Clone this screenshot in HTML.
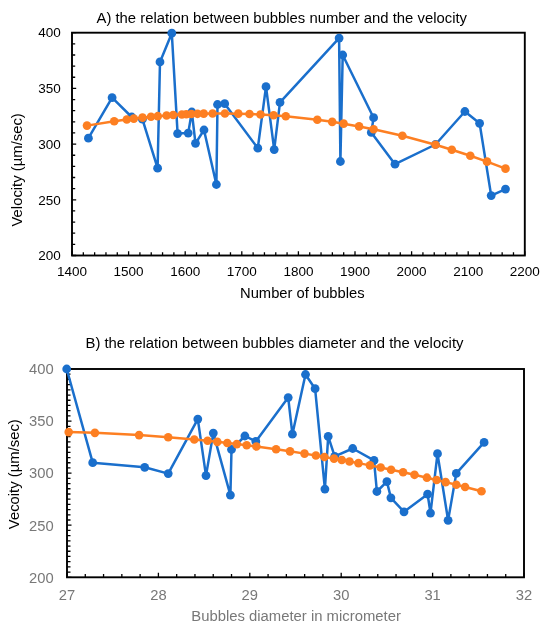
<!DOCTYPE html>
<html><head><meta charset="utf-8"><style>
html,body{margin:0;padding:0;background:#fff;}
svg{display:block;will-change:transform;}
text{font-family:"Liberation Sans", sans-serif;}
</style></head><body>
<svg width="550" height="632" viewBox="0 0 550 632">
<rect width="550" height="632" fill="#fff"/>
<path d="M72,255.5v-4.2 M83.32,255.5v-3.2 M94.64,255.5v-3.2 M105.96,255.5v-3.2 M117.28,255.5v-3.2 M128.6,255.5v-4.2 M139.92,255.5v-3.2 M151.24,255.5v-3.2 M162.56,255.5v-3.2 M173.88,255.5v-3.2 M185.2,255.5v-4.2 M196.52,255.5v-3.2 M207.84,255.5v-3.2 M219.16,255.5v-3.2 M230.48,255.5v-3.2 M241.8,255.5v-4.2 M253.12,255.5v-3.2 M264.44,255.5v-3.2 M275.76,255.5v-3.2 M287.08,255.5v-3.2 M298.4,255.5v-4.2 M309.72,255.5v-3.2 M321.04,255.5v-3.2 M332.36,255.5v-3.2 M343.68,255.5v-3.2 M355,255.5v-4.2 M366.32,255.5v-3.2 M377.64,255.5v-3.2 M388.96,255.5v-3.2 M400.28,255.5v-3.2 M411.6,255.5v-4.2 M422.92,255.5v-3.2 M434.24,255.5v-3.2 M445.56,255.5v-3.2 M456.88,255.5v-3.2 M468.2,255.5v-4.2 M479.52,255.5v-3.2 M490.84,255.5v-3.2 M502.16,255.5v-3.2 M513.48,255.5v-3.2 M524.8,255.5v-4.2 M72,255.5h4.2 M72,244.36h3.2 M72,233.22h3.2 M72,222.08h3.2 M72,210.94h3.2 M72,199.8h4.2 M72,188.66h3.2 M72,177.52h3.2 M72,166.38h3.2 M72,155.24h3.2 M72,144.1h4.2 M72,132.96h3.2 M72,121.82h3.2 M72,110.68h3.2 M72,99.54h3.2 M72,88.4h4.2 M72,77.26h3.2 M72,66.12h3.2 M72,54.98h3.2 M72,43.84h3.2 M72,32.7h4.2" stroke="#000" stroke-width="1.3" fill="none"/>
<rect x="72.0" y="32.7" width="452.8" height="222.8" fill="none" stroke="#000" stroke-width="1.9"/>
<path d="M88.4,138.2 L112.1,97.7 L131.7,117 L142.4,119.2 L157.6,168.2 L160,61.9 L171.8,33.2 L177.6,133.6 L188.2,133.1 L191.8,112 L195.5,143.3 L204,130 L216.4,184.5 L217.5,104.5 L224.7,103.7 L257.8,148.2 L266,86.7 L274.2,149.6 L280,102.4 L339.1,38.1 L340.4,161.5 L342.7,55 L373.6,117.7 L371.3,132.4 L395,164.2 L435.5,144.5 L464.9,111.5 L479.6,123.3 L491.2,195.6 L505.5,189.1" fill="none" stroke="#1a6fcc" stroke-width="2.5" stroke-linejoin="round" stroke-linecap="round"/>
<circle cx="88.4" cy="138.2" r="4.4" fill="#1a6fcc"/><circle cx="112.1" cy="97.7" r="4.4" fill="#1a6fcc"/><circle cx="131.7" cy="117" r="4.4" fill="#1a6fcc"/><circle cx="142.4" cy="119.2" r="4.4" fill="#1a6fcc"/><circle cx="157.6" cy="168.2" r="4.4" fill="#1a6fcc"/><circle cx="160" cy="61.9" r="4.4" fill="#1a6fcc"/><circle cx="171.8" cy="33.2" r="4.4" fill="#1a6fcc"/><circle cx="177.6" cy="133.6" r="4.4" fill="#1a6fcc"/><circle cx="188.2" cy="133.1" r="4.4" fill="#1a6fcc"/><circle cx="191.8" cy="112" r="4.4" fill="#1a6fcc"/><circle cx="195.5" cy="143.3" r="4.4" fill="#1a6fcc"/><circle cx="204" cy="130" r="4.4" fill="#1a6fcc"/><circle cx="216.4" cy="184.5" r="4.4" fill="#1a6fcc"/><circle cx="217.5" cy="104.5" r="4.4" fill="#1a6fcc"/><circle cx="224.7" cy="103.7" r="4.4" fill="#1a6fcc"/><circle cx="257.8" cy="148.2" r="4.4" fill="#1a6fcc"/><circle cx="266" cy="86.7" r="4.4" fill="#1a6fcc"/><circle cx="274.2" cy="149.6" r="4.4" fill="#1a6fcc"/><circle cx="280" cy="102.4" r="4.4" fill="#1a6fcc"/><circle cx="339.1" cy="38.1" r="4.4" fill="#1a6fcc"/><circle cx="340.4" cy="161.5" r="4.4" fill="#1a6fcc"/><circle cx="342.7" cy="55" r="4.4" fill="#1a6fcc"/><circle cx="373.6" cy="117.7" r="4.4" fill="#1a6fcc"/><circle cx="371.3" cy="132.4" r="4.4" fill="#1a6fcc"/><circle cx="395" cy="164.2" r="4.4" fill="#1a6fcc"/><circle cx="435.5" cy="144.5" r="4.4" fill="#1a6fcc"/><circle cx="464.9" cy="111.5" r="4.4" fill="#1a6fcc"/><circle cx="479.6" cy="123.3" r="4.4" fill="#1a6fcc"/><circle cx="491.2" cy="195.6" r="4.4" fill="#1a6fcc"/><circle cx="505.5" cy="189.1" r="4.4" fill="#1a6fcc"/>
<path d="M87,125.61 L114.2,121.19 L126.8,119.47 L133.8,118.61 L142.5,117.64 L151,116.78 L157.8,116.17 L166.6,115.47 L173.2,115.01 L181.9,114.49 L186.3,114.27 L191.4,114.05 L197.5,113.83 L203.7,113.66 L212.6,113.5 L224.9,113.46 L238.3,113.65 L249.5,114 L260.5,114.5 L273.6,115.32 L285.8,116.29 L317.3,119.74 L332.2,121.84 L343.6,123.65 L359.1,126.4 L373.6,129.27 L402.4,135.82 L435.5,144.76 L451.8,149.71 L470.3,155.78 L487,161.66 L505.5,168.63" fill="none" stroke="#fd7f22" stroke-width="2.5" stroke-linejoin="round" stroke-linecap="round"/>
<circle cx="87" cy="125.61" r="4.3" fill="#fd7f22"/><circle cx="114.2" cy="121.19" r="4.3" fill="#fd7f22"/><circle cx="126.8" cy="119.47" r="4.3" fill="#fd7f22"/><circle cx="133.8" cy="118.61" r="4.3" fill="#fd7f22"/><circle cx="142.5" cy="117.64" r="4.3" fill="#fd7f22"/><circle cx="151" cy="116.78" r="4.3" fill="#fd7f22"/><circle cx="157.8" cy="116.17" r="4.3" fill="#fd7f22"/><circle cx="166.6" cy="115.47" r="4.3" fill="#fd7f22"/><circle cx="173.2" cy="115.01" r="4.3" fill="#fd7f22"/><circle cx="181.9" cy="114.49" r="4.3" fill="#fd7f22"/><circle cx="186.3" cy="114.27" r="4.3" fill="#fd7f22"/><circle cx="191.4" cy="114.05" r="4.3" fill="#fd7f22"/><circle cx="197.5" cy="113.83" r="4.3" fill="#fd7f22"/><circle cx="203.7" cy="113.66" r="4.3" fill="#fd7f22"/><circle cx="212.6" cy="113.5" r="4.3" fill="#fd7f22"/><circle cx="224.9" cy="113.46" r="4.3" fill="#fd7f22"/><circle cx="238.3" cy="113.65" r="4.3" fill="#fd7f22"/><circle cx="249.5" cy="114" r="4.3" fill="#fd7f22"/><circle cx="260.5" cy="114.5" r="4.3" fill="#fd7f22"/><circle cx="273.6" cy="115.32" r="4.3" fill="#fd7f22"/><circle cx="285.8" cy="116.29" r="4.3" fill="#fd7f22"/><circle cx="317.3" cy="119.74" r="4.3" fill="#fd7f22"/><circle cx="332.2" cy="121.84" r="4.3" fill="#fd7f22"/><circle cx="343.6" cy="123.65" r="4.3" fill="#fd7f22"/><circle cx="359.1" cy="126.4" r="4.3" fill="#fd7f22"/><circle cx="373.6" cy="129.27" r="4.3" fill="#fd7f22"/><circle cx="402.4" cy="135.82" r="4.3" fill="#fd7f22"/><circle cx="435.5" cy="144.76" r="4.3" fill="#fd7f22"/><circle cx="451.8" cy="149.71" r="4.3" fill="#fd7f22"/><circle cx="470.3" cy="155.78" r="4.3" fill="#fd7f22"/><circle cx="487" cy="161.66" r="4.3" fill="#fd7f22"/><circle cx="505.5" cy="168.63" r="4.3" fill="#fd7f22"/>
<text x="60.8" y="36.83" font-size="13.5" text-anchor="end" fill="#000">400</text><text x="60.8" y="92.83" font-size="13.5" text-anchor="end" fill="#000">350</text><text x="60.8" y="148.63" font-size="13.5" text-anchor="end" fill="#000">300</text><text x="60.8" y="204.63" font-size="13.5" text-anchor="end" fill="#000">250</text><text x="60.8" y="260.43" font-size="13.5" text-anchor="end" fill="#000">200</text><text x="72" y="275.8" font-size="13.5" text-anchor="middle" fill="#000">1400</text><text x="128.6" y="275.8" font-size="13.5" text-anchor="middle" fill="#000">1500</text><text x="185.2" y="275.8" font-size="13.5" text-anchor="middle" fill="#000">1600</text><text x="241.8" y="275.8" font-size="13.5" text-anchor="middle" fill="#000">1700</text><text x="298.4" y="275.8" font-size="13.5" text-anchor="middle" fill="#000">1800</text><text x="355" y="275.8" font-size="13.5" text-anchor="middle" fill="#000">1900</text><text x="411.6" y="275.8" font-size="13.5" text-anchor="middle" fill="#000">2000</text><text x="468.2" y="275.8" font-size="13.5" text-anchor="middle" fill="#000">2100</text><text x="524.8" y="275.8" font-size="13.5" text-anchor="middle" fill="#000">2200</text>
<text x="96.5" y="22.6" font-size="14.85" fill="#000">A) the relation between bubbles number and the velocity</text>
<text x="240" y="297.7" font-size="14.75" fill="#000">Number of bubbles</text>
<text transform="translate(22.1,226.5) rotate(-90)" font-size="14.85" fill="#000">Velocity (µm/sec)</text>
<path d="M67,577.3v-4.5 M85.28,577.3v-3.2 M103.56,577.3v-3.2 M121.84,577.3v-3.2 M140.12,577.3v-3.2 M158.4,577.3v-4.5 M176.68,577.3v-3.2 M194.96,577.3v-3.2 M213.24,577.3v-3.2 M231.52,577.3v-3.2 M249.8,577.3v-4.5 M268.08,577.3v-3.2 M286.36,577.3v-3.2 M304.64,577.3v-3.2 M322.92,577.3v-3.2 M341.2,577.3v-4.5 M359.48,577.3v-3.2 M377.76,577.3v-3.2 M396.04,577.3v-3.2 M414.32,577.3v-3.2 M432.6,577.3v-4.5 M450.88,577.3v-3.2 M469.16,577.3v-3.2 M487.44,577.3v-3.2 M505.72,577.3v-3.2 M524,577.3v-4.5 M67,577.3h4.5 M67,572.09h3.5 M67,566.88h3.5 M67,561.68h3.5 M67,556.47h3.5 M67,551.26h3.5 M67,546.05h3.5 M67,540.85h3.5 M67,535.64h3.5 M67,530.43h3.5 M67,525.22h4.5 M67,520.02h3.5 M67,514.81h3.5 M67,509.6h3.5 M67,504.39h3.5 M67,499.19h3.5 M67,493.98h3.5 M67,488.77h3.5 M67,483.56h3.5 M67,478.36h3.5 M67,473.15h4.5 M67,467.94h3.5 M67,462.73h3.5 M67,457.53h3.5 M67,452.32h3.5 M67,447.11h3.5 M67,441.9h3.5 M67,436.7h3.5 M67,431.49h3.5 M67,426.28h3.5 M67,421.07h4.5 M67,415.87h3.5 M67,410.66h3.5 M67,405.45h3.5 M67,400.25h3.5 M67,395.04h3.5 M67,389.83h3.5 M67,384.62h3.5 M67,379.42h3.5 M67,374.21h3.5 M67,369h4.5" stroke="#000" stroke-width="1.3" fill="none"/>
<rect x="67.0" y="369.0" width="457" height="208.3" fill="none" stroke="#000" stroke-width="1.9"/>
<path d="M66.7,369 L92.7,462.7 L144.7,467.3 L168.2,473.6 L197.8,419.1 L206,475.6 L213.3,433.1 L230.4,495.1 L231.5,449.5 L244.9,436 L255.8,441.4 L288.2,397.6 L292.4,434.2 L305.5,374.5 L315.1,388.7 L324.9,489.1 L328.2,436.4 L334.7,456.4 L352.7,448.5 L374,460.4 L376.9,491.5 L386.9,481.6 L390.9,497.8 L404,511.8 L427.6,494.2 L430.5,513.1 L437.5,453.7 L448.1,520.3 L456.3,473.4 L484.1,442.4" fill="none" stroke="#1a6fcc" stroke-width="2.5" stroke-linejoin="round" stroke-linecap="round"/>
<circle cx="66.7" cy="369" r="4.4" fill="#1a6fcc"/><circle cx="92.7" cy="462.7" r="4.4" fill="#1a6fcc"/><circle cx="144.7" cy="467.3" r="4.4" fill="#1a6fcc"/><circle cx="168.2" cy="473.6" r="4.4" fill="#1a6fcc"/><circle cx="197.8" cy="419.1" r="4.4" fill="#1a6fcc"/><circle cx="206" cy="475.6" r="4.4" fill="#1a6fcc"/><circle cx="213.3" cy="433.1" r="4.4" fill="#1a6fcc"/><circle cx="230.4" cy="495.1" r="4.4" fill="#1a6fcc"/><circle cx="231.5" cy="449.5" r="4.4" fill="#1a6fcc"/><circle cx="244.9" cy="436" r="4.4" fill="#1a6fcc"/><circle cx="255.8" cy="441.4" r="4.4" fill="#1a6fcc"/><circle cx="288.2" cy="397.6" r="4.4" fill="#1a6fcc"/><circle cx="292.4" cy="434.2" r="4.4" fill="#1a6fcc"/><circle cx="305.5" cy="374.5" r="4.4" fill="#1a6fcc"/><circle cx="315.1" cy="388.7" r="4.4" fill="#1a6fcc"/><circle cx="324.9" cy="489.1" r="4.4" fill="#1a6fcc"/><circle cx="328.2" cy="436.4" r="4.4" fill="#1a6fcc"/><circle cx="334.7" cy="456.4" r="4.4" fill="#1a6fcc"/><circle cx="352.7" cy="448.5" r="4.4" fill="#1a6fcc"/><circle cx="374" cy="460.4" r="4.4" fill="#1a6fcc"/><circle cx="376.9" cy="491.5" r="4.4" fill="#1a6fcc"/><circle cx="386.9" cy="481.6" r="4.4" fill="#1a6fcc"/><circle cx="390.9" cy="497.8" r="4.4" fill="#1a6fcc"/><circle cx="404" cy="511.8" r="4.4" fill="#1a6fcc"/><circle cx="427.6" cy="494.2" r="4.4" fill="#1a6fcc"/><circle cx="430.5" cy="513.1" r="4.4" fill="#1a6fcc"/><circle cx="437.5" cy="453.7" r="4.4" fill="#1a6fcc"/><circle cx="448.1" cy="520.3" r="4.4" fill="#1a6fcc"/><circle cx="456.3" cy="473.4" r="4.4" fill="#1a6fcc"/><circle cx="484.1" cy="442.4" r="4.4" fill="#1a6fcc"/>
<path d="M68.7,432.09 L94.9,432.87 L139.1,435.1 L168.2,437.19 L194.3,439.49 L207.6,440.82 L217.3,441.85 L227.3,442.97 L236.8,444.09 L246.7,445.32 L256.4,446.57 L276.1,449.29 L290,451.35 L304.5,453.62 L315.9,455.48 L324.4,456.93 L334,458.61 L341.8,460.01 L349.5,461.44 L358.5,463.14 L370,465.39 L380.7,467.55 L391.1,469.72 L403.1,472.3 L414.5,474.83 L426.9,477.67 L436.6,479.95 L445.6,482.12 L456.3,484.75 L465.1,486.97 L481.5,491.23" fill="none" stroke="#fd7f22" stroke-width="2.5" stroke-linejoin="round" stroke-linecap="round"/>
<circle cx="68.7" cy="432.09" r="4.3" fill="#fd7f22"/><circle cx="94.9" cy="432.87" r="4.3" fill="#fd7f22"/><circle cx="139.1" cy="435.1" r="4.3" fill="#fd7f22"/><circle cx="168.2" cy="437.19" r="4.3" fill="#fd7f22"/><circle cx="194.3" cy="439.49" r="4.3" fill="#fd7f22"/><circle cx="207.6" cy="440.82" r="4.3" fill="#fd7f22"/><circle cx="217.3" cy="441.85" r="4.3" fill="#fd7f22"/><circle cx="227.3" cy="442.97" r="4.3" fill="#fd7f22"/><circle cx="236.8" cy="444.09" r="4.3" fill="#fd7f22"/><circle cx="246.7" cy="445.32" r="4.3" fill="#fd7f22"/><circle cx="256.4" cy="446.57" r="4.3" fill="#fd7f22"/><circle cx="276.1" cy="449.29" r="4.3" fill="#fd7f22"/><circle cx="290" cy="451.35" r="4.3" fill="#fd7f22"/><circle cx="304.5" cy="453.62" r="4.3" fill="#fd7f22"/><circle cx="315.9" cy="455.48" r="4.3" fill="#fd7f22"/><circle cx="324.4" cy="456.93" r="4.3" fill="#fd7f22"/><circle cx="334" cy="458.61" r="4.3" fill="#fd7f22"/><circle cx="341.8" cy="460.01" r="4.3" fill="#fd7f22"/><circle cx="349.5" cy="461.44" r="4.3" fill="#fd7f22"/><circle cx="358.5" cy="463.14" r="4.3" fill="#fd7f22"/><circle cx="370" cy="465.39" r="4.3" fill="#fd7f22"/><circle cx="380.7" cy="467.55" r="4.3" fill="#fd7f22"/><circle cx="391.1" cy="469.72" r="4.3" fill="#fd7f22"/><circle cx="403.1" cy="472.3" r="4.3" fill="#fd7f22"/><circle cx="414.5" cy="474.83" r="4.3" fill="#fd7f22"/><circle cx="426.9" cy="477.67" r="4.3" fill="#fd7f22"/><circle cx="436.6" cy="479.95" r="4.3" fill="#fd7f22"/><circle cx="445.6" cy="482.12" r="4.3" fill="#fd7f22"/><circle cx="456.3" cy="484.75" r="4.3" fill="#fd7f22"/><circle cx="465.1" cy="486.97" r="4.3" fill="#fd7f22"/><circle cx="481.5" cy="491.23" r="4.3" fill="#fd7f22"/>
<text x="53.7" y="582.6" font-size="14.75" text-anchor="end" fill="#787878">200</text><text x="53.7" y="530.52" font-size="14.75" text-anchor="end" fill="#787878">250</text><text x="53.7" y="478.45" font-size="14.75" text-anchor="end" fill="#787878">300</text><text x="53.7" y="426.38" font-size="14.75" text-anchor="end" fill="#787878">350</text><text x="53.7" y="374.3" font-size="14.75" text-anchor="end" fill="#787878">400</text><text x="67" y="599.9" font-size="14.75" text-anchor="middle" fill="#787878">27</text><text x="158.4" y="599.9" font-size="14.75" text-anchor="middle" fill="#787878">28</text><text x="249.8" y="599.9" font-size="14.75" text-anchor="middle" fill="#787878">29</text><text x="341.2" y="599.9" font-size="14.75" text-anchor="middle" fill="#787878">30</text><text x="432.6" y="599.9" font-size="14.75" text-anchor="middle" fill="#787878">31</text><text x="524" y="599.9" font-size="14.75" text-anchor="middle" fill="#787878">32</text>
<text x="85.5" y="347.6" font-size="14.85" fill="#000">B) the relation between bubbles diameter and the velocity</text>
<text x="191.3" y="621" font-size="14.85" fill="#787878">Bubbles diameter in micrometer</text>
<text transform="translate(19.4,529.2) rotate(-90)" font-size="14.85" fill="#000">Vecoity (µm/sec)</text>
</svg>
</body></html>
